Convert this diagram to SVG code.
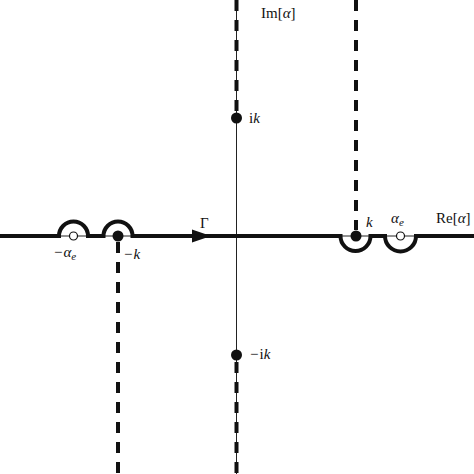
<svg xmlns="http://www.w3.org/2000/svg" width="474" height="474" viewBox="0 0 474 474">
<style>
.thin{stroke:#222;stroke-width:1;fill:none}
.thick{stroke:#111;stroke-width:4;fill:none}
.dash{stroke:#111;stroke-width:4;fill:none;stroke-dasharray:11 9}
.dot{fill:#111}
.open{fill:#fff;stroke:#111;stroke-width:1.2}
text{font-family:"Liberation Serif","DejaVu Serif",serif;font-size:15px;fill:#111}
.it{font-style:italic}
.sub{font-style:italic;font-size:11px}
</style>
<g id="connectors">
<line class="thin" x1="236.5" y1="0" x2="236.5" y2="474"/>
<line class="thin" x1="0" y1="236" x2="474" y2="236"/>
<line class="dash" x1="236.5" y1="0" x2="236.5" y2="112"/>
<line class="dash" x1="236.5" y1="362" x2="236.5" y2="474"/>
<line class="dash" x1="118" y1="242" x2="118" y2="474"/>
<line class="dash" x1="356" y1="0" x2="356" y2="230"/>
<path id="contour" class="thick" d="M0,236 H59 A14.5,14.5 0 0 1 88,236 H103.5 A14.5,14.5 0 0 1 132.5,236 H340.5 A15,15 0 0 0 370.5,236 H385 A15.5,15.5 0 0 0 416,236 H474"/>
<polygon class="dot" points="192,229.5 211,236 192,242.5"/>
</g>
<g id="node-ik"><circle class="dot" cx="236.5" cy="118" r="5.5"/><text x="249" y="123"><tspan>i</tspan><tspan class="it">k</tspan></text></g>
<g id="node-minus-ik"><circle class="dot" cx="236.5" cy="355" r="5.5"/><text x="250" y="359"><tspan>−</tspan><tspan dx="1">i</tspan><tspan class="it">k</tspan></text></g>
<g id="node-minus-alpha-e"><circle class="open" cx="73.5" cy="236" r="4"/><text x="54" y="257">−<tspan class="it" dx="1">α</tspan><tspan class="sub" dy="3">e</tspan></text></g>
<g id="node-minus-k"><circle class="dot" cx="118" cy="236" r="5.5"/><text x="124" y="259">−<tspan class="it" dx="1">k</tspan></text></g>
<g id="node-k"><circle class="dot" cx="356" cy="236" r="5.5"/><text class="it" x="366" y="227">k</text></g>
<g id="node-alpha-e"><circle class="open" cx="400.5" cy="236" r="4"/><text x="391" y="223"><tspan class="it">α</tspan><tspan class="sub" dy="3">e</tspan></text></g>
<g id="label-gamma"><text x="200" y="228">Γ</text></g>
<g id="label-re"><text x="436" y="223">Re[<tspan class="it">α</tspan>]</text></g>
<g id="label-im"><text x="261" y="18">Im[<tspan class="it">α</tspan>]</text></g>
</svg>
